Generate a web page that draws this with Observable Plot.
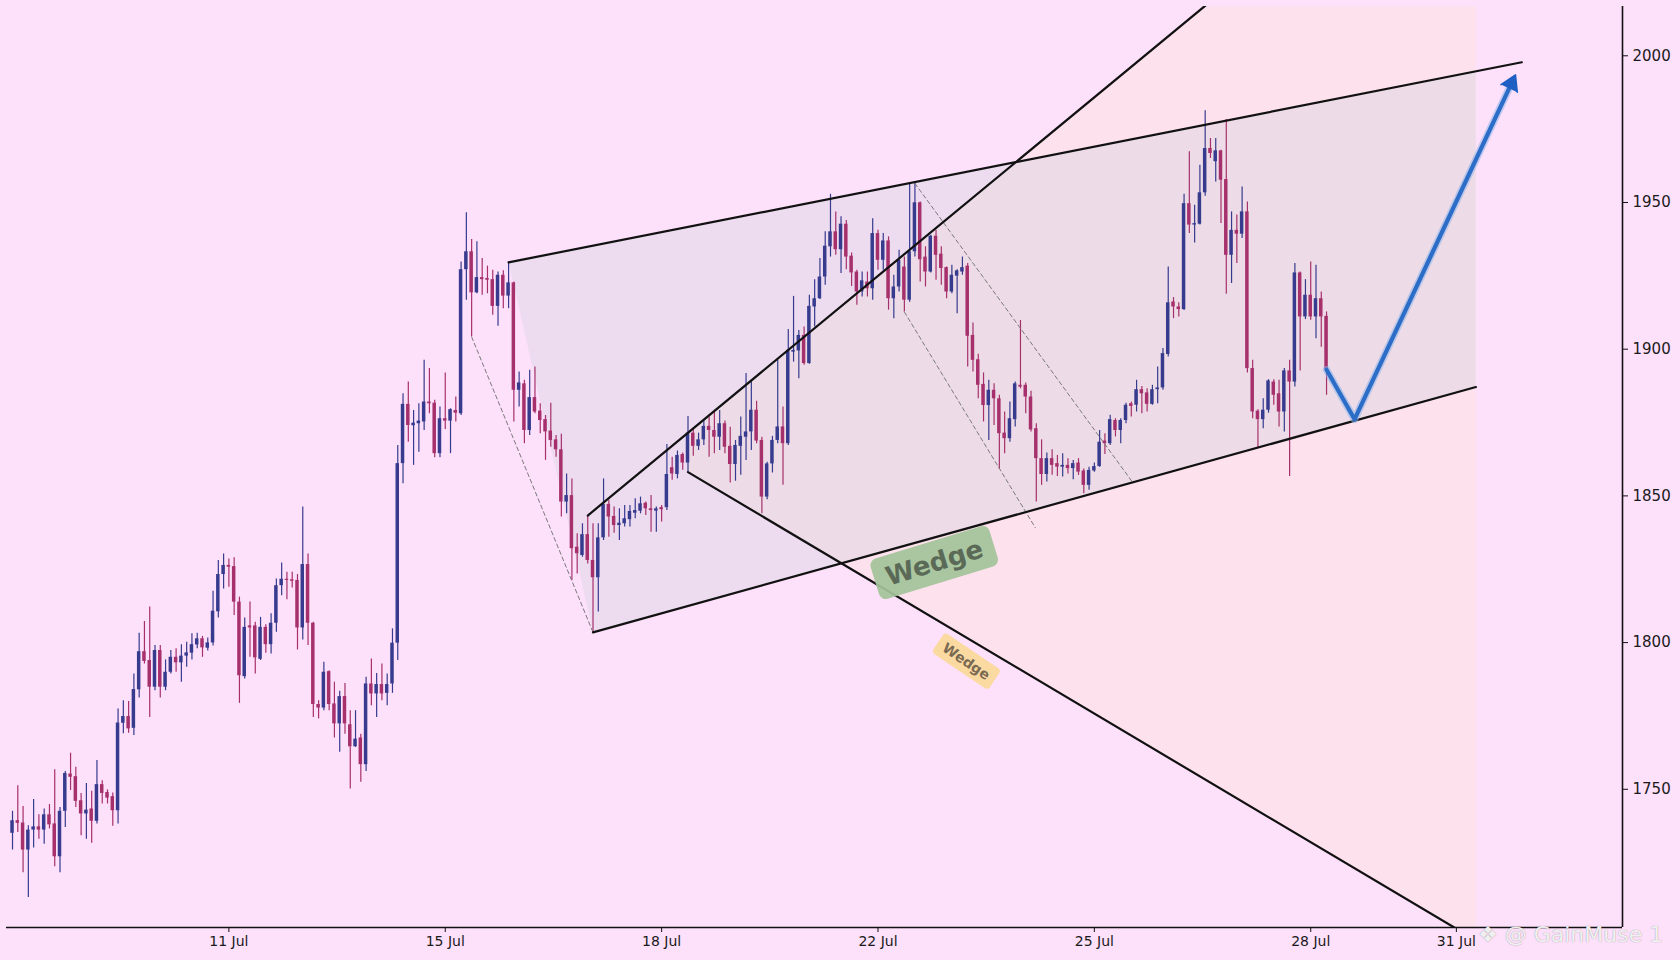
<!DOCTYPE html>
<html><head><meta charset="utf-8">
<script src="https://cdn.jsdelivr.net/npm/d3@7"></script>
<script src="https://cdn.jsdelivr.net/npm/@observablehq/plot@0.6"></script>
<style>
html,body{margin:0;padding:0;background:#fde0fa;}
#wrap{position:relative;width:1680px;height:960px;overflow:hidden;background:#fde0fa;}
#wm{position:absolute;left:1478px;top:922px;font:22px "DejaVu Sans",sans-serif;color:rgba(255,255,255,0.9);text-shadow:0 0 1px rgba(120,120,120,0.9);white-space:nowrap;}
</style></head><body><div id="wrap"><div id="wm">❖ @ GainMuse 1</div></div>
<script>
// ---- x axis ticks (candle index) ----
const tickIndex = [41, 82, 123, 164, 205, 246, 273.6];
const tickLabels = ["11 Jul", "15 Jul", "18 Jul", "22 Jul", "25 Jul", "28 Jul", "31 Jul"];
const priceTicks = [1750, 1800, 1850, 1900, 1950, 2000];

// ---- candles ----
const open = [1735.0,1739.3,1738.5,1729.3,1736.1,1737.2,1736.1,1741.3,1738.2,1727.0,
1742.5,1755.2,1754.3,1746.1,1741.6,1743.3,1739.1,1751.6,1748.9,1747.5,
1742.7,1772.5,1774.8,1770.8,1783.9,1796.9,1793.9,1784.8,1797.3,1784.8,
1789.9,1795.0,1793.1,1795.4,1796.4,1799.2,1801.3,1798.1,1799.9,1810.5,
1823.2,1826.3,1825.9,1813.8,1788.4,1805.7,1805.7,1794.3,1805.2,1799.3,
1806.6,1819.4,1821.6,1821.4,1821.2,1805.0,1826.6,1806.6,1778.9,1777.7,
1790.1,1779.1,1772.3,1781.6,1772.0,1764.5,1767.5,1758.4,1785.9,1782.5,
1785.7,1782.7,1785.9,1799.8,1861.0,1881.2,1873.9,1874.6,1875.2,1882.0,
1881.6,1864.4,1876.3,1875.5,1879.1,1878.0,1927.1,1933.2,1919.2,1924.4,
1924.1,1923.7,1914.6,1925.2,1918.1,1922.6,1886.0,1888.2,1872.3,1883.5,
1878.9,1876.0,1872.1,1869.1,1865.7,1847.9,1850.1,1832.5,1829.7,1836.8,
1828.0,1822.1,1835.7,1847.1,1843.0,1839.9,1840.5,1841.9,1844.1,1844.8,
1847.5,1845.6,1844.8,1846.0,1846.0,1859.6,1857.3,1864.1,1861.2,1871.4,
1866.9,1869.1,1873.7,1872.3,1870.0,1874.6,1866.9,1860.7,1866.9,1870.0,
1871.8,1879.2,1868.9,1849.6,1860.9,1868.9,1873.5,1867.8,1899.0,1899.4,
1904.7,1895.1,1914.4,1917.2,1924.6,1934.9,1940.0,1933.9,1942.6,1931.7,
1926.3,1919.5,1922.9,1920.6,1939.4,1930.3,1936.9,1917.2,1921.2,1928.0,
1916.7,1933.2,1949.9,1931.4,1926.3,1938.5,1932.4,1927.8,1919.5,1924.9,
1926.3,1928.3,1904.7,1896.4,1888.0,1880.8,1886.0,1883.1,1871.4,1869.5,
1876.0,1887.7,1887.7,1883.7,1872.9,1862.7,1857.3,1862.7,1861.0,1859.8,
1860.4,1859.3,1861.2,1858.5,1853.6,1858.5,1860.0,1868.7,1867.8,1875.7,
1872.3,1875.7,1881.4,1880.9,1886.2,1885.1,1881.2,1886.2,1886.8,1898.2,
1916.1,1914.4,1913.5,1949.6,1942.3,1942.6,1953.3,1968.4,1963.9,1967.6,
1957.8,1932.0,1940.5,1939.2,1946.8,1893.4,1878.9,1876.0,1879.2,1888.8,
1884.8,1878.6,1892.6,1888.8,1926.0,1911.0,1918.4,1911.0,1917.2,1911.2];
const close = [1739.3,1738.4,1729.3,1736.1,1737.2,1736.1,1741.3,1737.9,1727.0,1742.5,
1755.4,1754.1,1745.9,1741.6,1742.9,1739.1,1751.6,1748.6,1747.0,1742.7,
1772.6,1774.8,1770.6,1784.0,1796.9,1793.6,1784.8,1797.3,1784.8,1789.9,
1795.0,1793.1,1795.4,1796.5,1799.3,1801.3,1798.2,1799.9,1810.7,1823.2,
1826.3,1825.7,1813.8,1788.7,1805.2,1805.0,1794.8,1805.2,1799.3,1806.6,
1819.4,1821.6,1821.2,1820.9,1805.0,1826.6,1806.6,1778.9,1777.7,1789.9,
1778.9,1772.3,1781.6,1772.3,1764.5,1767.1,1758.4,1785.9,1782.5,1785.7,
1782.5,1785.7,1799.8,1861.0,1881.2,1874.0,1874.8,1875.5,1882.0,1881.4,
1864.4,1876.3,1875.5,1879.4,1878.2,1927.1,1933.2,1919.2,1924.4,1923.7,
1923.5,1914.6,1925.2,1918.1,1922.6,1886.0,1888.5,1872.3,1883.5,1878.6,
1875.7,1871.8,1868.9,1865.7,1847.9,1850.1,1832.0,1830.3,1836.8,1828.0,
1822.1,1835.7,1847.1,1842.8,1839.9,1840.7,1842.2,1844.7,1845.0,1847.3,
1845.6,1845.0,1845.6,1845.3,1857.3,1857.5,1863.8,1861.2,1871.4,1866.9,
1869.1,1873.7,1872.3,1870.0,1874.6,1866.6,1860.7,1867.2,1870.3,1871.8,
1879.2,1868.7,1849.6,1860.9,1868.9,1873.5,1867.8,1899.6,1899.6,1904.7,
1895.1,1914.6,1917.2,1924.6,1935.1,1940.0,1933.9,1942.6,1931.4,1926.0,
1919.5,1923.3,1920.6,1939.4,1930.3,1936.9,1917.2,1921.2,1930.3,1916.7,
1933.2,1949.9,1930.5,1926.3,1938.5,1932.0,1927.5,1919.5,1925.2,1926.7,
1927.8,1904.4,1896.2,1887.7,1880.8,1886.0,1883.1,1871.2,1869.5,1876.3,
1888.2,1887.1,1883.7,1872.5,1862.7,1857.3,1862.7,1860.4,1859.8,1860.4,
1859.3,1861.0,1858.1,1853.6,1858.7,1860.0,1868.3,1867.8,1876.0,1872.3,
1875.7,1880.9,1880.5,1886.2,1884.8,1881.2,1886.2,1886.8,1898.5,1915.8,
1914.4,1913.5,1949.6,1942.3,1942.8,1953.3,1968.4,1966.7,1967.6,1957.6,
1932.0,1940.5,1939.2,1946.8,1893.4,1878.6,1876.0,1879.2,1889.2,1884.3,
1878.6,1892.6,1888.8,1926.0,1911.0,1918.4,1911.0,1917.2,1911.0,1893.0];
const high = [1742.5,1751.2,1744.1,1737.6,1746.5,1741.3,1743.3,1744.8,1756.7,1743.8,
1756.1,1762.3,1757.5,1748.6,1752.0,1749.3,1759.8,1752.9,1749.8,1748.7,
1777.4,1780.2,1779.9,1789.3,1803.2,1807.2,1812.1,1799.0,1799.0,1794.1,
1797.3,1797.9,1799.3,1800.1,1803.0,1803.2,1802.1,1801.6,1817.5,1828.0,
1830.2,1828.5,1828.9,1815.5,1808.4,1813.8,1806.9,1808.6,1806.1,1809.8,
1821.7,1827.1,1824.0,1824.0,1823.2,1846.2,1830.2,1806.9,1780.2,1793.3,
1790.4,1786.5,1783.4,1786.1,1776.8,1776.8,1768.8,1788.2,1794.4,1789.5,
1792.7,1789.3,1804.7,1867.2,1884.8,1888.8,1879.1,1881.4,1896.2,1893.4,
1882.6,1880.3,1891.9,1879.7,1883.7,1929.7,1946.5,1937.4,1936.6,1930.9,
1928.3,1926.9,1926.3,1926.7,1929.7,1922.9,1892.2,1889.4,1892.8,1893.9,
1881.4,1877.4,1881.6,1870.6,1871.0,1857.5,1855.8,1837.1,1840.5,1843.3,
1840.5,1840.5,1855.8,1848.5,1846.2,1845.6,1846.7,1846.7,1849.0,1849.6,
1847.9,1850.1,1846.2,1846.7,1867.5,1863.2,1865.3,1864.6,1877.1,1872.9,
1871.4,1875.7,1876.9,1878.9,1879.1,1875.5,1873.4,1868.9,1876.9,1891.7,
1889.4,1882.3,1870.0,1861.5,1870.3,1896.2,1880.3,1906.7,1918.0,1906.4,
1907.6,1918.4,1923.7,1930.9,1940.0,1952.8,1946.8,1945.1,1943.9,1932.8,
1926.9,1926.3,1926.3,1944.5,1940.5,1939.4,1938.3,1925.2,1933.7,1931.4,
1956.5,1956.5,1950.2,1934.9,1938.8,1940.5,1934.9,1928.0,1928.6,1927.1,
1931.4,1929.2,1908.9,1898.3,1891.9,1889.4,1888.2,1884.3,1878.6,1882.0,
1888.8,1909.8,1888.5,1885.7,1874.6,1869.1,1864.6,1865.7,1863.8,1864.4,
1862.7,1862.1,1862.7,1859.2,1859.8,1861.2,1872.3,1871.2,1877.5,1876.3,
1876.3,1881.6,1882.0,1889.4,1887.3,1886.5,1887.7,1893.9,1900.2,1928.0,
1917.6,1915.8,1952.8,1967.3,1949.1,1962.7,1981.3,1971.8,1971.8,1967.8,
1978.3,1946.8,1945.7,1955.3,1950.2,1896.2,1879.4,1883.1,1889.6,1889.6,
1889.4,1893.4,1896.2,1929.2,1926.3,1923.7,1929.7,1928.6,1919.5,1912.7];
const low = [1729.3,1735.3,1721.6,1713.1,1730.0,1733.0,1731.3,1736.5,1723.6,1721.6,
1737.0,1749.6,1743.8,1734.2,1733.0,1731.6,1738.2,1745.0,1745.0,1737.4,
1738.2,1768.9,1769.1,1768.3,1781.1,1792.7,1774.5,1783.6,1781.1,1783.6,
1789.3,1789.9,1786.5,1791.6,1794.1,1797.9,1795.0,1797.1,1798.8,1808.4,
1818.3,1818.9,1809.2,1779.3,1787.6,1795.0,1789.3,1793.9,1796.4,1796.1,
1803.5,1816.0,1814.6,1818.6,1797.5,1800.9,1799.0,1774.5,1774.0,1776.8,
1776.8,1767.5,1762.6,1768.8,1750.1,1764.3,1752.4,1756.1,1778.5,1774.5,
1780.2,1778.5,1782.7,1793.9,1854.1,1868.3,1860.4,1864.9,1872.3,1878.0,
1863.0,1863.0,1872.6,1864.4,1875.2,1877.4,1916.7,1904.2,1918.9,1918.4,
1918.9,1911.6,1907.8,1913.8,1913.8,1875.2,1880.3,1867.8,1870.6,1878.0,
1871.2,1862.1,1866.6,1863.2,1842.8,1843.9,1821.2,1823.4,1829.1,1826.8,
1803.5,1810.4,1834.8,1835.9,1837.3,1834.8,1839.4,1839.4,1842.2,1843.9,
1843.3,1837.6,1837.6,1841.1,1845.0,1855.3,1855.8,1858.7,1858.1,1863.5,
1865.5,1867.2,1863.2,1864.4,1865.5,1864.4,1854.4,1855.0,1857.0,1862.1,
1865.5,1867.8,1843.9,1848.7,1857.8,1867.8,1853.6,1867.2,1895.6,1889.9,
1894.5,1894.9,1907.6,1916.9,1921.8,1931.4,1932.0,1925.8,1927.1,1921.4,
1915.0,1917.8,1917.8,1916.7,1926.9,1926.9,1913.3,1910.4,1919.5,1912.7,
1916.0,1931.4,1922.9,1921.2,1926.0,1923.5,1921.8,1917.2,1918.9,1912.1,
1925.2,1893.9,1892.2,1883.1,1875.2,1868.9,1874.0,1859.2,1864.4,1868.3,
1873.5,1886.5,1878.0,1871.8,1847.9,1853.6,1854.7,1857.0,1856.6,1856.4,
1857.5,1855.5,1857.0,1850.7,1851.9,1858.1,1859.8,1864.1,1867.2,1870.1,
1867.8,1874.6,1876.9,1878.6,1878.0,1878.6,1880.9,1881.4,1886.0,1897.3,
1910.4,1911.0,1913.2,1939.4,1936.2,1942.3,1952.1,1965.0,1957.0,1942.8,
1918.7,1922.4,1929.2,1937.7,1891.9,1876.3,1866.4,1872.9,1878.2,1880.9,
1873.5,1871.8,1856.6,1887.1,1892.6,1910.1,1909.9,1903.6,1900.7,1884.3];

// ---- annotation lines (candle index, price) ----
const upperWedge = [{i: 94, v: 1929.6}, {i: 286.0, v: 1997.8}];
const lowerWedge = [{i: 110, v: 1803.5}, {i: 277.3, v: 1887.1}];
const risingLine = [{i: 109, v: 1843.3}, {i: 226.1, v: 2017.2}];
const fallingLine = [{i: 128, v: 1858.1}, {i: 273.2, v: 1702.9}];
const dashA = [{i: 87, v: 1904.2}, {i: 110, v: 1803.5}];
const dashB = [{i: 169, v: 1912.7}, {i: 193.8, v: 1839.2}];
const dashC = [{i: 171, v: 1956.5}, {i: 212.3, v: 1854.5}];
const projection = [{i: 249, v: 1893.0}, {i: 254.3, v: 1876.1}, {i: 284.2, v: 1991.2}];
const arrowHead = [{i: 284.2, v: 1991.2}];
const wedgeZone = [{i: 94, v: 1929.6}, {i: 277.3, v: 1994.7}, {i: 277.3, v: 1887.1}, {i: 110, v: 1803.5}];
const broadZone = [{i: 128, v: 1858.1}, {i: 128, v: 1871.5}, {i: 225.8, v: 2016.8}, {i: 277.3, v: 2016.8}, {i: 277.3, v: 1702.9}, {i: 273.2, v: 1702.9}];
const bigLabel = [{i: 174.7, v: 1827.1, t: "Wedge"}];
const smallLabel = [{i: 180.7, v: 1793.5, t: "Wedge"}];

const UP = "#363b8e", DOWN = "#a6306b";
const candles = open.map((o, k) => ({k, o, c: close[k], h: high[k], l: low[k], col: close[k] >= o ? UP : DOWN}));
const tickMap = new Map(tickIndex.map((t, k) => [t, tickLabels[k]]));

const chart = Plot.plot({
  width: 1680, height: 960,
  marginLeft: 6, marginRight: 58, marginTop: 6, marginBottom: 33,
  x: {domain: [-1.14, 305.08]},
  y: {domain: [1702.9, 2016.8]},
  color: {type: "identity"},
  style: {fontFamily: "DejaVu Sans, sans-serif", fontSize: "14px", background: "#fde0fa", color: "#1a1a1a"},
  marks: [
    Plot.line(broadZone, {x: "i", y: "v", fill: "#fde1ec", stroke: "none"}),
    Plot.line(wedgeZone, {x: "i", y: "v", fill: "#c9d0dc", fillOpacity: 0.3, stroke: "none"}),
    Plot.ruleX(candles, {x: "k", y1: "l", y2: "h", stroke: "col", strokeWidth: 1.2}),
    Plot.rect(candles, {x1: d => d.k - 0.33, x2: d => d.k + 0.33, y1: "o", y2: "c", fill: "col"}),
    Plot.line(dashA, {x: "i", y: "v", stroke: "#7a7a7a", strokeWidth: 1, strokeDasharray: "4 3"}),
    Plot.line(dashB, {x: "i", y: "v", stroke: "#7a7a7a", strokeWidth: 1, strokeDasharray: "4 3"}),
    Plot.line(dashC, {x: "i", y: "v", stroke: "#7a7a7a", strokeWidth: 1, strokeDasharray: "4 3"}),
    Plot.line(upperWedge, {x: "i", y: "v", stroke: "#111", strokeWidth: 2.2}),
    Plot.line(lowerWedge, {x: "i", y: "v", stroke: "#111", strokeWidth: 2.2}),
    Plot.line(risingLine, {x: "i", y: "v", stroke: "#111", strokeWidth: 2.2, clip: true}),
    Plot.line(fallingLine, {x: "i", y: "v", stroke: "#111", strokeWidth: 2.2, clip: true}),
    Plot.line(projection, {x: "i", y: "v", stroke: "#8fb4ea", strokeWidth: 7.5, strokeOpacity: 0.55}),
    Plot.line(projection, {x: "i", y: "v", stroke: "#2c6dc8", strokeWidth: 4.2}),
    Plot.vector(arrowHead, {x: "i", y: "v", shape: "spike", length: 15, r: 9, rotate: 25, fill: "#1f5fc3", stroke: "#1f5fc3", strokeWidth: 1.5}),
    Plot.text(bigLabel, {x: "i", y: "v", text: "t", rotate: -17, fontSize: 26, fontWeight: "bold", fill: "#5a6a57"}),
    Plot.text(smallLabel, {x: "i", y: "v", text: "t", rotate: 34, fontSize: 14, fontWeight: "bold", fill: "#7b6a52"}),
    Plot.ruleY([1702.9], {stroke: "#111", strokeWidth: 1.6}),
    Plot.ruleX([305.08], {stroke: "#111", strokeWidth: 1.6}),
    Plot.axisX({ticks: tickIndex, tickFormat: d => tickMap.get(d), tickSize: 5, tickPadding: 4, label: null, stroke: "#111"}),
    Plot.axisY({anchor: "right", ticks: priceTicks, tickFormat: d => String(d), tickSize: 5, tickPadding: 5, label: null, stroke: "#111", fontSize: 15})
  ]
});
const wrap = document.getElementById("wrap");
wrap.insertBefore(chart, wrap.firstChild);

// rounded label boxes behind the two "Wedge" texts
const svgNS = "http://www.w3.org/2000/svg";
const labelTexts = Array.from(chart.querySelectorAll("text")).filter(t => t.textContent === "Wedge");
const measured = labelTexts.map(t => ({t, bb: t.getBBox()})).sort((a, b) => b.bb.width - a.bb.width);
const boxStyles = [
  {fill: "#a3c399", padX: 12, padY: 6, rx: 7, op: 0.92},
  {fill: "#fbd99d", padX: 7, padY: 4, rx: 4, op: 0.95}
];
measured.forEach(({t, bb}, k) => {
  const s = boxStyles[Math.min(k, 1)];
  const r = document.createElementNS(svgNS, "rect");
  r.setAttribute("x", bb.x - s.padX);
  r.setAttribute("y", bb.y - s.padY);
  r.setAttribute("width", bb.width + 2 * s.padX);
  r.setAttribute("height", bb.height + 2 * s.padY);
  r.setAttribute("rx", s.rx);
  r.setAttribute("style", `fill:${s.fill};fill-opacity:${s.op};stroke:none`);
  const tr = t.getAttribute("transform");
  if (tr) r.setAttribute("transform", tr);
  t.parentNode.insertBefore(r, t);
});
</script>
</body></html>
